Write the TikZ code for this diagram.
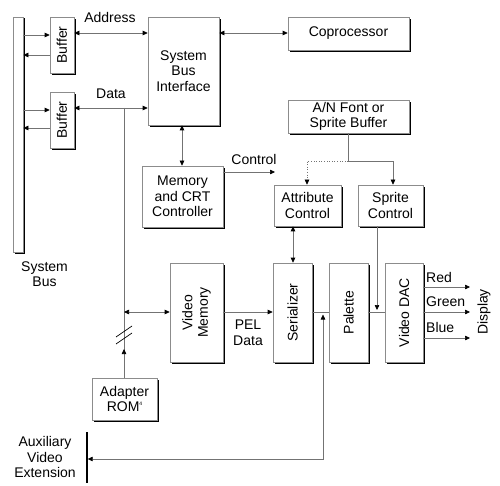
\documentclass[tikz,border=0pt]{standalone}
\usepackage{fontspec}
\setmainfont{Liberation Sans}
\usetikzlibrary{arrows.meta,shadows}
\begin{document}
\begin{tikzpicture}[x=1pt,y=-1pt,
  font=\fontsize{14}{15.5}\selectfont,
  box/.style={draw=black!45, line width=0.6pt, fill=white, inner sep=0pt, align=center,
    drop shadow={shadow xshift=2.2pt, shadow yshift=-2.2pt, fill=black, opacity=1}},
  vtext/.style={rotate=90, inner sep=0pt, align=center},
  conn/.style={draw=black!55, line width=0.6pt},
  tip/.style={-{Triangle[length=5pt,width=4.5pt,color=black]}},
  both/.style={{Triangle[length=5pt,width=4.5pt,color=black]}-{Triangle[length=5pt,width=4.5pt,color=black]}},
  lbl/.style={inner sep=0pt, align=center}
]
\useasboundingbox (0,0) rectangle (500,486);
\fill[white] (0,0) rectangle (500,486);

% system bus
\node[box, minimum width=10pt, minimum height=235pt, drop shadow={shadow xshift=1.5pt, shadow yshift=-1.5pt, fill=black, opacity=1}] (bus) at (18,134.5) {};
\node[lbl] (buslbl) at (44.5,274) {System\\Bus};

% boxes
\node[box, minimum width=24pt, minimum height=56pt] (buf1) at (62,45) {};
\node[vtext] (buf1t) at (buf1.center) {Buffer};
\node[box, minimum width=24pt, minimum height=56pt] (buf2) at (62,120) {};
\node[vtext] (buf2t) at (buf2.center) {Buffer};
\node[box, minimum width=71pt, minimum height=108pt] (sbi) at (183.5,71) {System\\Bus\\Interface};
\node[box, minimum width=121pt, minimum height=33pt] (cop) at (348.5,33.5) {Coprocessor};
\node[box, minimum width=121pt, minimum height=33pt] (anf) at (348.5,116.5) {A/N Font or\\Sprite Buffer};
\node[box, minimum width=81pt, minimum height=61pt] (mcrt) at (182.5,196.5) {Memory\\and CRT\\Controller};
\node[box, minimum width=67pt, minimum height=41pt] (attr) at (307.5,205.5) {Attribute\\Control};
\node[box, minimum width=65pt, minimum height=41pt] (spr) at (390.5,205.5) {Sprite\\Control};
\node[box, minimum width=53pt, minimum height=99pt] (vm) at (196.5,312.5) {};
\node[vtext] (vmt) at (vm.center) {Video\\Memory};
\node[box, minimum width=39pt, minimum height=99pt] (ser) at (292.5,312.5) {};
\node[vtext] (sert) at (ser.center) {Serializer};
\node[box, minimum width=39pt, minimum height=99pt] (pal) at (348.5,312.5) {};
\node[vtext] (palt) at (pal.center) {Palette};
\node[box, minimum width=38pt, minimum height=99pt] (dac) at (404,312.5) {};
\node[vtext] (dact) at (dac.center) {Video DAC};
\node[box, minimum width=65pt, minimum height=42pt] (rom) at (124.5,399) {Adapter\\ROM\raisebox{0.9ex}{\fontsize{5}{5}\selectfont 4}};

% auxiliary video extension
\node[fill=black, minimum width=2pt, minimum height=51pt, inner sep=0pt] (aux) at (86.5,457.5) {};
\node[lbl] (auxt) at (45,457) {Auxiliary\\Video\\Extension};

% bus <-> buffers
\draw[conn,tip] (bus.east |- 0,35) -- (buf1.west |- 0,35);
\draw[conn,tip] (buf1.west |- 0,55) -- (bus.east |- 0,55);
\draw[conn,tip] (bus.east |- 0,110) -- (buf2.west |- 0,110);
\draw[conn,tip] (buf2.west |- 0,128) -- (bus.east |- 0,128);

% address / data
\draw[conn,both] (buf1.east |- 0,33) -- (sbi.west |- 0,33);
\node[lbl] (addr) at (110,17) {Address};
\draw[conn,both] (buf2.east |- 0,108) -- (sbi.west |- 0,108);
\node[lbl] (datal) at (111,94) {Data};
\coordinate (dj) at (124,108);

% sbi <-> coprocessor, mcrt
\draw[conn,both] (sbi.east |- 0,33) -- (cop.west |- 0,33);
\draw[conn,both] (sbi.south -| 182,0) -- (mcrt.north -| 182,0);

% control
\coordinate (ctrlend) at (275,172);
\draw[conn,tip] (mcrt.east |- ctrlend) -- (ctrlend);
\node[lbl] (ctrl) at (254,159) {Control};

% font buffer to attribute/sprite
\coordinate (fj) at (348,161);
\draw[conn] (anf.south -| fj) -- (fj);
\draw[conn,dotted,tip] (fj) -- (307,161) -- (attr.north -| 307,0);
\draw[conn,tip] (fj) -- (393,161) -- (spr.north -| 393,0);

% attribute <-> serializer
\draw[conn,both] (attr.south -| 293,0) -- (ser.north -| 293,0);

% video path
\coordinate (sp) at (323,312);
\coordinate (dp) at (377,312);
\draw[conn,tip] (vm.east |- 0,312) -- (ser.west |- 0,312);
\node[lbl] (pel) at (248,333) {PEL\\Data};
\draw[conn] (ser.east |- 0,312) -- (pal.west |- 0,312);
\draw[conn] (pal.east |- 0,312) -- (dac.west |- 0,312);
\draw[conn,tip] (spr.south -| dp) -- (377,310);

% data line to rom and video memory
\draw[conn] (dj) -- (rom.north -| dj);
\draw[conn,tip] (rom.north -| dj) -- (124,349);
\draw[conn,both] (124,312) -- (vm.west |- 0,312);
\draw[line width=0.7pt] (116,337) -- (132,326);
\draw[line width=0.7pt] (116,344) -- (132,333);

% aux
\draw[conn,both] (323,314.5) -- (323,459) -- (aux.east |- 0,459);

% outputs
\coordinate (ro) at (470,287);
\coordinate (go) at (470,312);
\coordinate (bo) at (470,338);
\draw[conn,tip] (dac.east |- ro) -- (ro);
\draw[conn,tip] (dac.east |- go) -- (go);
\draw[conn,tip] (dac.east |- bo) -- (bo);
\node[lbl,anchor=west] (redl) at (426,277) {Red};
\node[lbl,anchor=west] (grnl) at (426,302) {Green};
\node[lbl,anchor=west] (blul) at (426,327) {Blue};
\node[vtext] (disp) at (484,312) {Display};
\end{tikzpicture}
\end{document}
